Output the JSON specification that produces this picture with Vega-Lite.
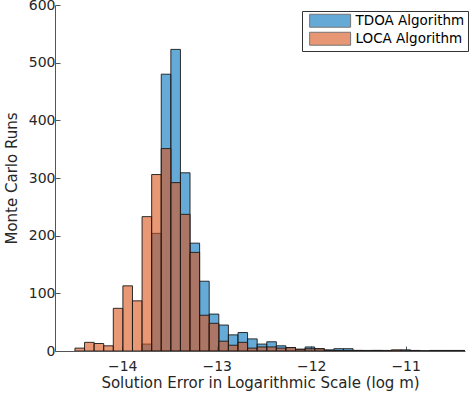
{
  "$schema": "https://vega.github.io/schema/vega-lite/v6.json",
  "width": 410,
  "height": 346,
  "autosize": "none",
  "padding": {"left": 55, "top": 5, "right": 9, "bottom": 44},
  "background": "white",
  "config": {
    "view": {"stroke": null},
    "font": "DejaVu Sans",
    "axis": {
      "grid": false,
      "labelFont": "DejaVu Sans",
      "titleFont": "DejaVu Sans",
      "labelFontSize": 14,
      "titleFontSize": 15,
      "titleFontWeight": "normal",
      "labelColor": "#262626",
      "titleColor": "#262626",
      "domainColor": "#555555",
      "tickColor": "#555555",
      "domainWidth": 1,
      "tickWidth": 1,
      "tickSize": -5
    }
  },
  "data": {
    "values": [
      {"a": "TDOA Algorithm", "x0": -13.7895, "x1": -13.688, "n": 12},
      {"a": "TDOA Algorithm", "x0": -13.688, "x1": -13.5865, "n": 204},
      {"a": "TDOA Algorithm", "x0": -13.5865, "x1": -13.485, "n": 480},
      {"a": "TDOA Algorithm", "x0": -13.485, "x1": -13.3835, "n": 523},
      {"a": "TDOA Algorithm", "x0": -13.3835, "x1": -13.282, "n": 309},
      {"a": "TDOA Algorithm", "x0": -13.282, "x1": -13.1805, "n": 187},
      {"a": "TDOA Algorithm", "x0": -13.1805, "x1": -13.079, "n": 121},
      {"a": "TDOA Algorithm", "x0": -13.079, "x1": -12.9775, "n": 64},
      {"a": "TDOA Algorithm", "x0": -12.9775, "x1": -12.876, "n": 45},
      {"a": "TDOA Algorithm", "x0": -12.876, "x1": -12.7745, "n": 28},
      {"a": "TDOA Algorithm", "x0": -12.7745, "x1": -12.673, "n": 32},
      {"a": "TDOA Algorithm", "x0": -12.673, "x1": -12.5715, "n": 21},
      {"a": "TDOA Algorithm", "x0": -12.5715, "x1": -12.47, "n": 12},
      {"a": "TDOA Algorithm", "x0": -12.47, "x1": -12.3685, "n": 16},
      {"a": "TDOA Algorithm", "x0": -12.3685, "x1": -12.267, "n": 9},
      {"a": "TDOA Algorithm", "x0": -12.267, "x1": -12.1655, "n": 6},
      {"a": "TDOA Algorithm", "x0": -12.1655, "x1": -12.064, "n": 3},
      {"a": "TDOA Algorithm", "x0": -12.064, "x1": -11.9625, "n": 7},
      {"a": "TDOA Algorithm", "x0": -11.9625, "x1": -11.861, "n": 4},
      {"a": "TDOA Algorithm", "x0": -11.861, "x1": -11.7595, "n": 2},
      {"a": "TDOA Algorithm", "x0": -11.7595, "x1": -11.658, "n": 4},
      {"a": "TDOA Algorithm", "x0": -11.658, "x1": -11.5565, "n": 4},
      {"a": "TDOA Algorithm", "x0": -11.5565, "x1": -11.455, "n": 1},
      {"a": "TDOA Algorithm", "x0": -11.455, "x1": -11.3535, "n": 1},
      {"a": "TDOA Algorithm", "x0": -11.3535, "x1": -11.252, "n": 1},
      {"a": "TDOA Algorithm", "x0": -11.252, "x1": -11.1505, "n": 0},
      {"a": "TDOA Algorithm", "x0": -11.1505, "x1": -11.049, "n": 1},
      {"a": "TDOA Algorithm", "x0": -11.049, "x1": -10.9475, "n": 2},
      {"a": "TDOA Algorithm", "x0": -10.9475, "x1": -10.846, "n": 1},
      {"a": "TDOA Algorithm", "x0": -10.846, "x1": -10.7445, "n": 0},
      {"a": "TDOA Algorithm", "x0": -10.7445, "x1": -10.643, "n": 1},
      {"a": "TDOA Algorithm", "x0": -10.643, "x1": -10.5415, "n": 0},
      {"a": "TDOA Algorithm", "x0": -10.5415, "x1": -10.44, "n": 1},
      {"a": "TDOA Algorithm", "x0": -10.44, "x1": -10.3385, "n": 0},
      {"a": "LOCA Algorithm", "x0": -14.5, "x1": -14.3985, "n": 5},
      {"a": "LOCA Algorithm", "x0": -14.3985, "x1": -14.297, "n": 15},
      {"a": "LOCA Algorithm", "x0": -14.297, "x1": -14.1955, "n": 13},
      {"a": "LOCA Algorithm", "x0": -14.1955, "x1": -14.094, "n": 9},
      {"a": "LOCA Algorithm", "x0": -14.094, "x1": -13.9925, "n": 74},
      {"a": "LOCA Algorithm", "x0": -13.9925, "x1": -13.891, "n": 113},
      {"a": "LOCA Algorithm", "x0": -13.891, "x1": -13.7895, "n": 87},
      {"a": "LOCA Algorithm", "x0": -13.7895, "x1": -13.688, "n": 233},
      {"a": "LOCA Algorithm", "x0": -13.688, "x1": -13.5865, "n": 306},
      {"a": "LOCA Algorithm", "x0": -13.5865, "x1": -13.485, "n": 351},
      {"a": "LOCA Algorithm", "x0": -13.485, "x1": -13.3835, "n": 292},
      {"a": "LOCA Algorithm", "x0": -13.3835, "x1": -13.282, "n": 237},
      {"a": "LOCA Algorithm", "x0": -13.282, "x1": -13.1805, "n": 171},
      {"a": "LOCA Algorithm", "x0": -13.1805, "x1": -13.079, "n": 62},
      {"a": "LOCA Algorithm", "x0": -13.079, "x1": -12.9775, "n": 48},
      {"a": "LOCA Algorithm", "x0": -12.9775, "x1": -12.876, "n": 17},
      {"a": "LOCA Algorithm", "x0": -12.876, "x1": -12.7745, "n": 10},
      {"a": "LOCA Algorithm", "x0": -12.7745, "x1": -12.673, "n": 15},
      {"a": "LOCA Algorithm", "x0": -12.673, "x1": -12.5715, "n": 5},
      {"a": "LOCA Algorithm", "x0": -12.5715, "x1": -12.47, "n": 7},
      {"a": "LOCA Algorithm", "x0": -12.47, "x1": -12.3685, "n": 7},
      {"a": "LOCA Algorithm", "x0": -12.3685, "x1": -12.267, "n": 5},
      {"a": "LOCA Algorithm", "x0": -12.267, "x1": -12.1655, "n": 6},
      {"a": "LOCA Algorithm", "x0": -12.1655, "x1": -12.064, "n": 3},
      {"a": "LOCA Algorithm", "x0": -12.064, "x1": -11.9625, "n": 4},
      {"a": "LOCA Algorithm", "x0": -11.9625, "x1": -11.861, "n": 4},
      {"a": "LOCA Algorithm", "x0": -11.861, "x1": -11.7595, "n": 1},
      {"a": "LOCA Algorithm", "x0": -11.7595, "x1": -11.658, "n": 1},
      {"a": "LOCA Algorithm", "x0": -11.658, "x1": -11.5565, "n": 1},
      {"a": "LOCA Algorithm", "x0": -11.5565, "x1": -11.455, "n": 1},
      {"a": "LOCA Algorithm", "x0": -11.455, "x1": -11.3535, "n": 0},
      {"a": "LOCA Algorithm", "x0": -11.3535, "x1": -11.252, "n": 1},
      {"a": "LOCA Algorithm", "x0": -11.252, "x1": -11.1505, "n": 1},
      {"a": "LOCA Algorithm", "x0": -11.1505, "x1": -11.049, "n": 2},
      {"a": "LOCA Algorithm", "x0": -11.049, "x1": -10.9475, "n": 0},
      {"a": "LOCA Algorithm", "x0": -10.9475, "x1": -10.846, "n": 0},
      {"a": "LOCA Algorithm", "x0": -10.846, "x1": -10.7445, "n": 0},
      {"a": "LOCA Algorithm", "x0": -10.7445, "x1": -10.643, "n": 0},
      {"a": "LOCA Algorithm", "x0": -10.643, "x1": -10.5415, "n": 1},
      {"a": "LOCA Algorithm", "x0": -10.5415, "x1": -10.44, "n": 0},
      {"a": "LOCA Algorithm", "x0": -10.44, "x1": -10.3385, "n": 1}
    ]
  },
  "mark": {
    "type": "bar",
    "clip": true,
    "fillOpacity": 0.6,
    "stroke": "#1a1a1a",
    "strokeWidth": 1,
    "strokeOpacity": 0.9,
    "cornerRadius": 0
  },
  "encoding": {
    "x": {
      "field": "x0",
      "type": "quantitative",
      "scale": {"domain": [-14.711, -10.372], "nice": false, "zero": false},
      "axis": {"values": [-14, -13, -12, -11], "title": "Solution Error in Logarithmic Scale (log m)", "labelPadding": 13, "titlePadding": 2}
    },
    "x2": {"field": "x1"},
    "y": {
      "field": "n",
      "type": "quantitative",
      "stack": null,
      "scale": {"domain": [0, 600], "nice": false},
      "axis": {"values": [0, 100, 200, 300, 400, 500, 600], "title": "Monte Carlo Runs", "labelPadding": 5, "titlePadding": 9}
    },
    "y2": {"datum": 0},
    "color": {
      "field": "a",
      "type": "nominal",
      "scale": {"domain": ["TDOA Algorithm", "LOCA Algorithm"], "range": ["#0072BD", "#D95319"]},
      "legend": {
        "title": null,
        "orient": "none",
        "legendX": 247,
        "legendY": 6,
        "symbolType": "M-0.6,-1.85H11.1V1.85H-0.6Z",
        "symbolSize": 49,
        "symbolStrokeColor": "#1a1a1a",
        "symbolStrokeWidth": 1,
        "symbolOpacity": 0.6,
        "labelFontSize": 13.5,
        "labelFont": "DejaVu Sans",
        "labelColor": "#000000",
        "labelOffset": 37,
        "rowPadding": 0,
        "padding": 3,
        "strokeColor": "#333333",
        "fillColor": "white"
      }
    }
  }
}
